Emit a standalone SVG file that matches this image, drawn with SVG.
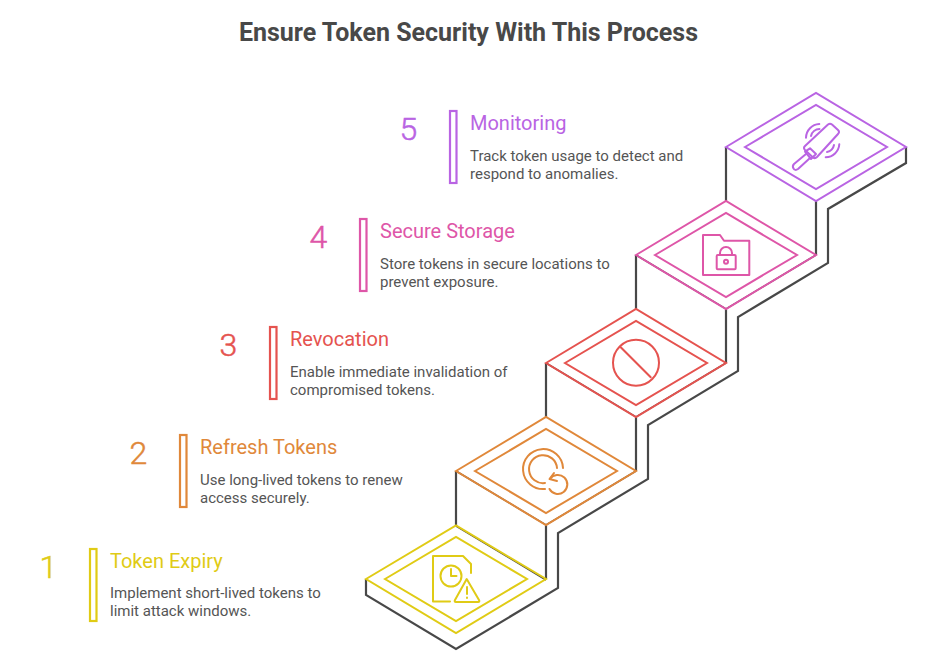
<svg xmlns="http://www.w3.org/2000/svg" width="936" height="669" viewBox="0 0 936 669">
<style>
text{font-family:Roboto,"Liberation Sans",sans-serif}
.title{font-size:25px;font-weight:700;fill:#484848;text-anchor:middle}
.num{font-size:32px;font-weight:300;stroke-width:0.500}
.head{font-size:20px}
.desc{font-size:15px;fill:#555555}
.dark{fill:none;stroke:#484848;stroke-width:2.200}
.under{fill:none;stroke:#484848;stroke-width:1.500}
.d{fill:none;stroke-width:2}
.i{fill:none;stroke-width:2;stroke-linecap:round;stroke-linejoin:round}
.bar{fill:none;stroke-width:2.200}
.y{stroke:#e0cb15}.yt{fill:#e0cb15}
.o{stroke:#e0883a}.ot{fill:#e0883a}
.r{stroke:#e5534f}.rt{fill:#e5534f}
.p{stroke:#de56a8}.pt{fill:#de56a8}
.v{stroke:#b964e3}.vt{fill:#b964e3}
</style>
<rect width="936" height="669" fill="#ffffff"/>
<text class="title" x="468.500" y="41">Ensure Token Security With This Process</text>
<g id="connectors">
<path class="dark" d="M366 579V595L456 649L558 588V533L648 479V425L738 371V317L828 263V209L906 163V147"/>
<path class="dark" d="M456 471V525M546 525V579M546 363V417M636 417V471M636 255V309M726 309V363M726 147V201M816 201V255"/>
<path class="under" d="M456 526L546 580M456 471L546 525L636 471M546 363L636 417L726 363M636 255L726 309L816 255"/>
</g>
<g id="node-1">
<path class="d y" d="M366 579L456 525.500L546 579L456 633Z"/>
<path class="d y" d="M385 579L456 537L527 579L456 621Z"/>
<g class="i y">
<path d="M450 601.500H433V556H463L471 564V573"/>
<circle cx="451" cy="576" r="10.500"/>
<path d="M451 569V576H456.500"/>
<path d="M466.700 579L479 600Q480 602 478 602H456Q454 602 455 600Z"/>
<path d="M467 587V594M467 597.500V598"/>
</g>
<rect class="bar y" x="90" y="549" width="6.500" height="72"/>
<text class="num yt y" x="39.500" y="578">1</text>
<text class="head yt" x="110" y="568">Token Expiry</text>
<text class="desc" x="110" y="598">Implement short-lived tokens to</text>
<text class="desc" x="110" y="616">limit attack windows.</text>
</g>
<g id="node-2">
<path class="d o" d="M456 471L546 417L636 471L546 525Z"/>
<path class="d o" d="M475 471L546 429L617 471L546 513Z"/>
<g class="i o">
<path d="M545 489A20 20 0 1 1 563 468"/>
<path d="M545 483A14 14 0 1 1 557 468"/>
<path d="M550 479A9.500 9.500 0 1 1 549.500 489"/>
<path d="M554 473L549.500 479L557 481"/>
</g>
<rect class="bar o" x="180" y="435" width="6.500" height="72"/>
<text class="num ot o" x="129.500" y="464">2</text>
<text class="head ot" x="200" y="454">Refresh Tokens</text>
<text class="desc" x="200" y="485">Use long-lived tokens to renew</text>
<text class="desc" x="200" y="503">access securely.</text>
</g>
<g id="node-3">
<path class="d r" d="M546 363L636 309L726 363L636 417Z"/>
<path class="d r" d="M565 363L636 321L707 363L636 405Z"/>
<g class="i r">
<circle cx="636" cy="362.700" r="23"/>
<path d="M620.700 347.300L650.700 377.300"/>
</g>
<rect class="bar r" x="270" y="327" width="6.500" height="72"/>
<text class="num rt r" x="219.500" y="356">3</text>
<text class="head rt" x="290" y="346">Revocation</text>
<text class="desc" x="290" y="377">Enable immediate invalidation of</text>
<text class="desc" x="290" y="395">compromised tokens.</text>
</g>
<g id="node-4">
<path class="d p" d="M636 255L726 201L816 255L726 309Z"/>
<path class="d p" d="M655 255L726 213L797 255L726 297Z"/>
<g class="i p">
<path d="M703 235H720L724 240.700H749.300V275H703Z"/>
<rect x="716.700" y="255" width="19" height="14.300" rx="1"/>
<path d="M720 255V253A6 6 0 0 1 732 253V255"/>
<circle cx="726" cy="261.700" r="2"/>
</g>
<rect class="bar p" x="360" y="219" width="6.500" height="72"/>
<text class="num pt p" x="309.500" y="248">4</text>
<text class="head pt" x="380" y="238">Secure Storage</text>
<text class="desc" x="380" y="269">Store tokens in secure locations to</text>
<text class="desc" x="380" y="287">prevent exposure.</text>
</g>
<g id="node-5">
<path class="d v" d="M726 147L816 93L906 147L816 201Z"/>
<path class="d v" d="M745 147L816 105L887 147L816 189Z"/>
<g class="i v">
<path d="M805 146L828 124.500Q830 123 832 124.500L838 130Q840 132 838 134L817 157Q815 159 813 157.500L805 150Q803 148 805 146Z"/>
<path d="M805 151.700L810 148.300L816 154L811 159Z"/>
<path d="M806 154L794 164Q792 166 793.500 168.500Q795 171 798 169L810 158"/>
<path d="M806 137.700A14 14 0 0 1 819.300 124M811 136A9 9 0 0 1 819.500 129"/>
<path d="M839.300 144.300A14 14 0 0 1 825.700 157.300M834 145A9 9 0 0 1 827 152"/>
</g>
<rect class="bar v" x="450" y="111" width="6.500" height="72"/>
<text class="num vt v" x="399.500" y="140">5</text>
<text class="head vt" x="470" y="130">Monitoring</text>
<text class="desc" x="470" y="161">Track token usage to detect and</text>
<text class="desc" x="470" y="179">respond to anomalies.</text>
</g>
</svg>
